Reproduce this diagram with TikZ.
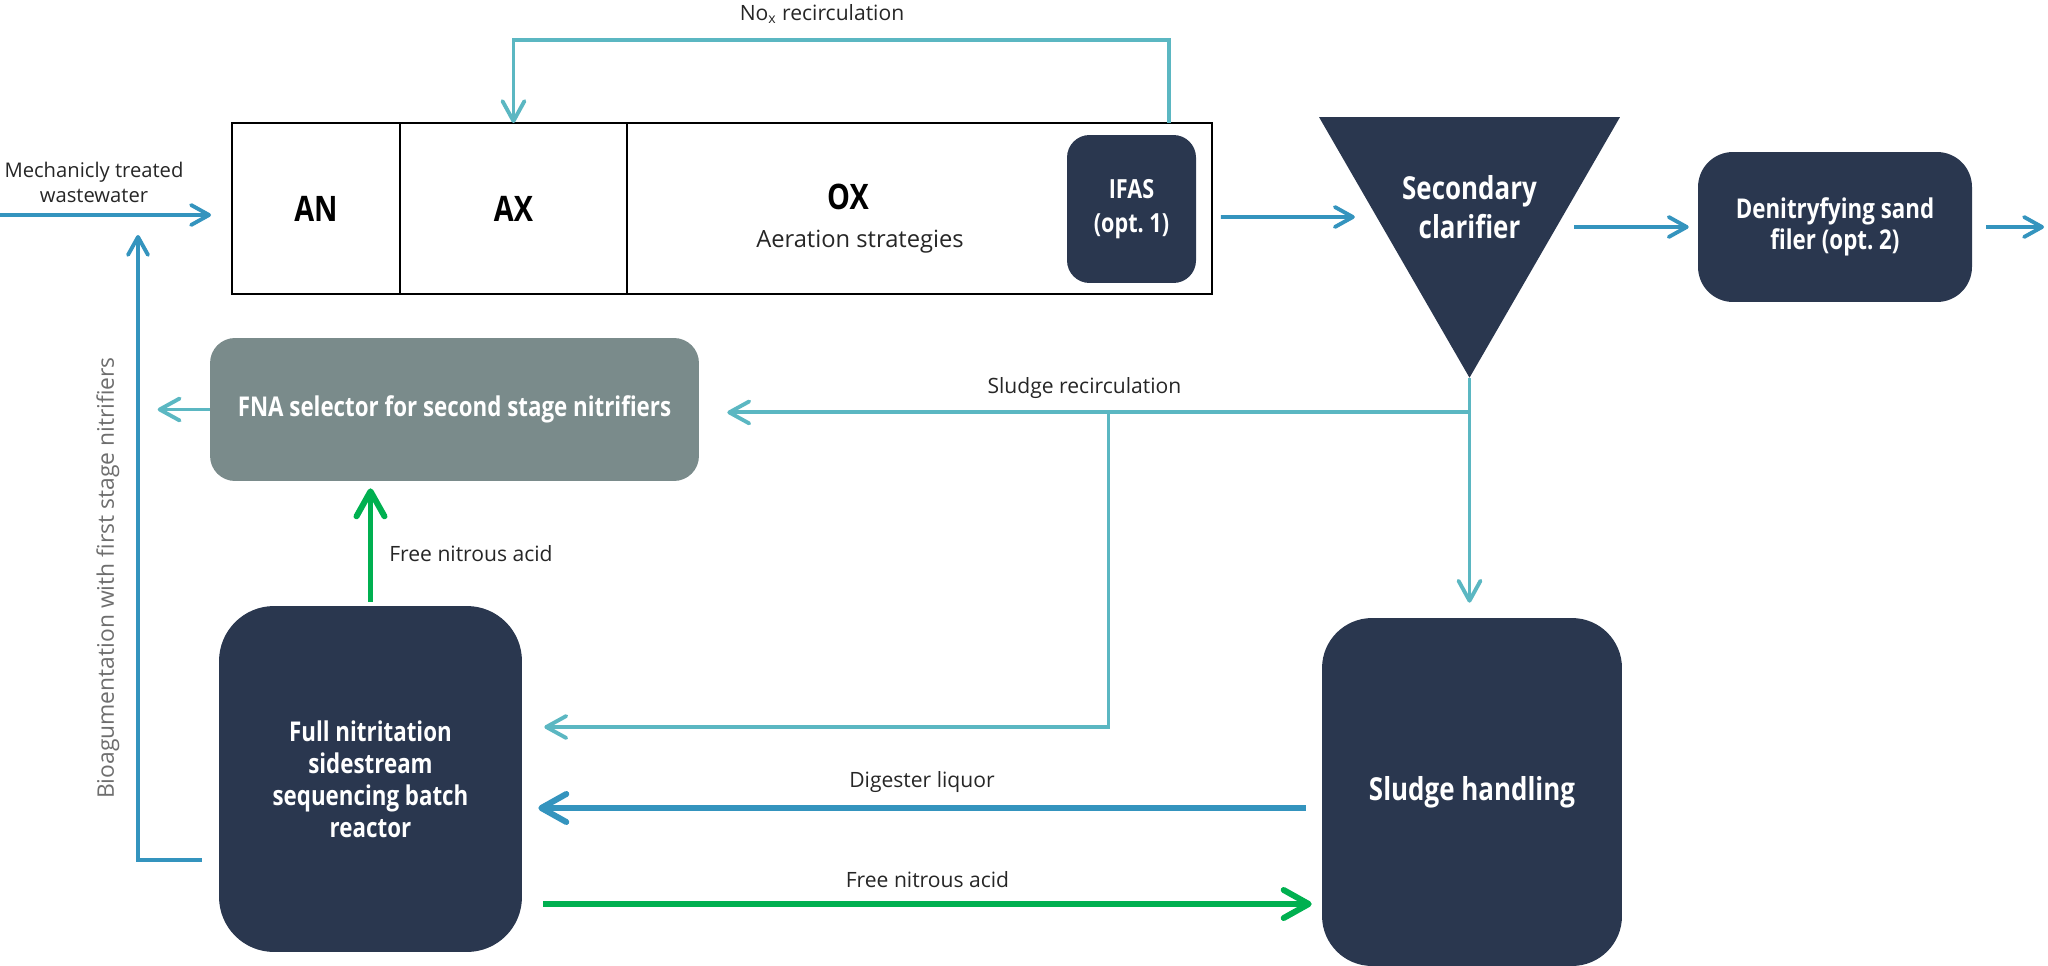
\documentclass[tikz,border=0pt]{standalone}
\usepackage{fontspec}
\setmainfont{Open Sans}
\newfontfamily\boxfont[FakeStretch=0.82]{Open Sans}
\usetikzlibrary{shapes.geometric, arrows.meta, positioning, calc}
\definecolor{navy}{RGB}{42,55,79}
\definecolor{slate}{RGB}{122,139,139}
\definecolor{recteal}{RGB}{91,183,194}
\definecolor{flowblue}{RGB}{52,148,190}
\definecolor{acidgreen}{RGB}{0,176,80}
\definecolor{labelgray}{RGB}{38,38,38}
\definecolor{sidegray}{RGB}{110,110,110}
\newcommand{\lblfont}{\fontsize{12}{15}\selectfont}
\newcommand{\tankfont}{\boxfont\bfseries\fontsize{20}{24}\selectfont}
\newcommand{\unitfont}{\boxfont\bfseries\fontsize{15.5}{18.2}\selectfont}
\newcommand{\bigunitfont}{\boxfont\bfseries\fontsize{18}{22}\selectfont}
\tikzset{
  tank/.style={rectangle, draw=black, line width=1.2pt, outer sep=0pt,
    minimum height=3.42cm, minimum width=3.36cm, font=\tankfont},
  tanklbl/.style={font=\tankfont},
  unit/.style={rectangle, rounded corners=0.5cm, fill=navy, text=white,
    align=center, font=\unitfont},
  selector/.style={rectangle, rounded corners=0.5cm, fill=slate, text=white,
    align=center, font=\unitfont},
  clarifier/.style={regular polygon, regular polygon sides=3,
    shape border rotate=180, fill=navy, minimum size=6.95cm, inner sep=0pt},
  flow/.style={draw=flowblue, line width=2.2pt,
    -{Straight Barb[round, length=0.36cm, width=0.4cm]}},
  recirc/.style={draw=recteal, line width=2.2pt,
    -{Straight Barb[round, length=0.4cm, width=0.44cm]}},
  digest/.style={draw=flowblue, line width=3.4pt,
    -{Straight Barb[round, length=0.5cm, width=0.56cm]}},
  acid/.style={draw=acidgreen, line width=3.4pt,
    -{Straight Barb[round, length=0.5cm, width=0.56cm]}},
  lbl/.style={text=labelgray, font=\lblfont},
}
\begin{document}
\begin{tikzpicture}[x=0.02cm, y=-0.02cm]
  \useasboundingbox (0,0) rectangle (2048,966);

  % activated sludge tank
  \node[tank] (an) at (316,208.5) {AN};
  \node[tank, right=0cm of an, minimum width=4.54cm] (ax) {AX};
  \node[tank, right=0cm of ax, minimum width=11.7cm] (ox) {};
  \node[tanklbl] (oxname) at (848,197) {OX};
  \node[lbl, font=\fontsize{13.5}{16}\selectfont] (aer) at (860,242) {Aeration strategies};
  \node[unit, minimum width=2.58cm, minimum height=2.96cm, rounded corners=0.45cm,
    font=\boxfont\bfseries\fontsize{15}{19}\selectfont] (ifas) at (1131.5,209) {IFAS\\(opt.~1)};

  \node[clarifier, label={[text=white, align=center, font=\bigunitfont, yshift=-0.06cm]center:Secondary\\clarifier}]
    (clar) at (1469.5,204) {};
  \node[unit, minimum width=5.48cm, minimum height=3cm, rounded corners=0.7cm,
    font=\boxfont\bfseries\fontsize{15.5}{17.6}\selectfont] (den)
    at (1835,227) {Denitryfying sand\\filer (opt.~2)};

  \node[selector, minimum width=9.78cm, minimum height=2.86cm] (fna)
    at (454.5,409.5) {FNA selector for second stage nitrifiers};
  \node[unit, minimum width=6.06cm, minimum height=6.92cm, rounded corners=1.1cm] (sbr)
    at (370.5,779) {Full nitritation\\sidestream\\sequencing batch\\reactor};
  \node[unit, minimum width=6cm, minimum height=6.96cm, rounded corners=1cm,
    font=\bigunitfont] (sludge) at (1472,792) {Sludge handling};

  % main flow
  \coordinate (src) at (0,215);
  \coordinate (outlet) at (2044,227);
  \draw[flow, shorten >=0.42cm] (src) -- (src -| an.west);
  \node[lbl, align=center, anchor=south, font=\fontsize{11.5}{14.5}\selectfont] (srclbl)
    at (94,209) {Mechanicly treated\\wastewater};
  \draw[flow] ([shift={(9,8.5)}]ox.east) -- ([shift={(-14,13)}]clar.west);
  \draw[flow] ([shift={(4,23)}]clar.east) -- ([xshift=-0.18cm]den.west);
  \draw[flow] ([xshift=0.28cm]den.east) -- (outlet);

  % recirculations
  \draw[recirc] ($(ox.north east)+(-43,0)$) -- ++(0,-83) -| (ax.north);
  \node[lbl] (noxlbl) at (822,14) {No\textsubscript{x} recirculation};
  \coordinate (split) at ($(clar.south)+(0,34)$);
  \coordinate (branch) at ($(split)+(-361,0)$);
  \draw[recirc, shorten >=0.3cm] (clar.south) -- (clar.south |- sludge.north);
  \draw[recirc, shorten >=0.56cm] (split) -- (split -| fna.east)
    node[lbl, midway, above=0.12cm] {Sludge recirculation};
  \draw[recirc, shorten >=0.44cm] (branch) |- ($(sbr.east)+(0,-52)$);
  \draw[recirc] (fna.west) -- ++(-52,0);

  % sidestream
  \draw[digest, shorten <=0.32cm, shorten >=0.32cm] ($(sludge.west)+(0,16)$) -- ($(sbr.east)+(0,29)$)
    node[lbl, midway, above=0.14cm] {Digester liquor};
  \draw[acid] ($(sbr.east)+(21,125)$) -- ($(sludge.west)+(-10,112)$)
    node[lbl, midway, above=0.14cm] {Free nitrous acid};
  \draw[acid, shorten <=0.08cm, shorten >=0.14cm] (sbr.north) -- (sbr.north |- fna.south)
    node[lbl, midway, right=0.2cm, yshift=-0.2cm] {Free nitrous acid};

  % bioaugmentation
  \coordinate (mix) at (138,235);
  \draw[flow] ($(sbr.west)+(-17,81)$) -| (mix);
  \node[lbl, rotate=90, text=sidegray, font=\fontsize{13}{16}\selectfont] (biolbl)
    at (108,578) {Bioagumentation with first stage nitrifiers};
\end{tikzpicture}
\end{document}
